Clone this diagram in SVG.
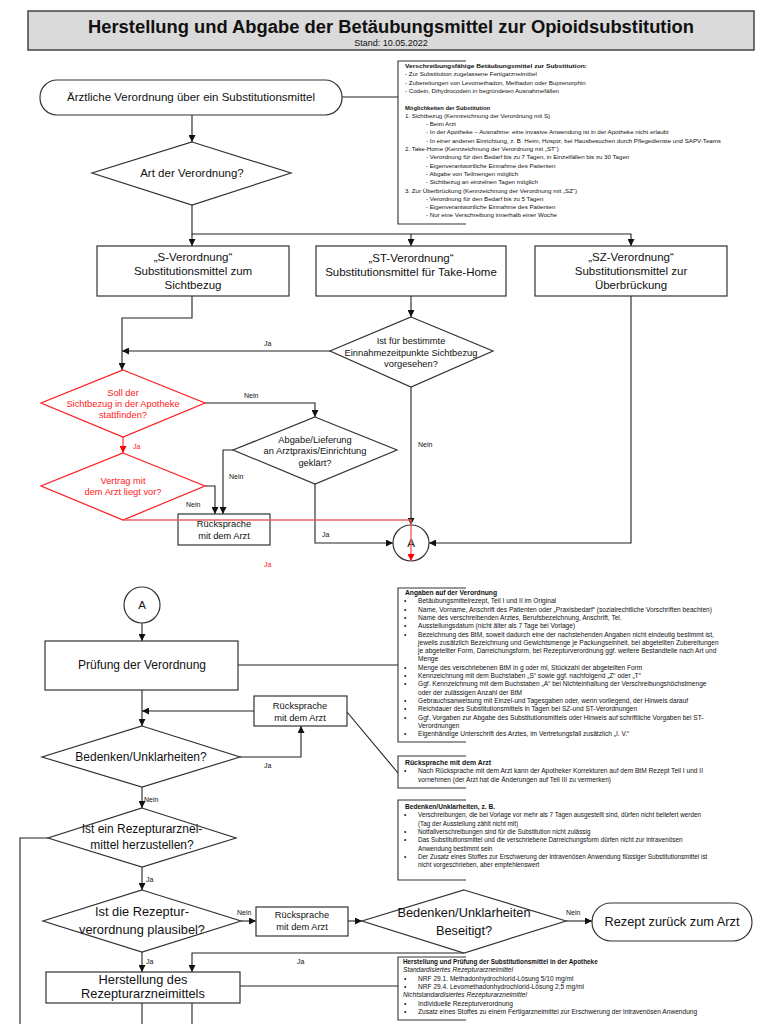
<svg xmlns="http://www.w3.org/2000/svg" width="768" height="1024" viewBox="0 0 768 1024">
<defs>
<marker id="ab" viewBox="0 0 8 8" refX="8" refY="4" markerWidth="7" markerHeight="7" markerUnits="userSpaceOnUse" orient="auto"><path d="M0,0 L8,4 L0,8 Z" fill="#111"/></marker>
<marker id="ar" viewBox="0 0 8 8" refX="8" refY="4" markerWidth="7" markerHeight="7" markerUnits="userSpaceOnUse" orient="auto"><path d="M0,0 L8,4 L0,8 Z" fill="#ff0000"/></marker>
</defs>
<style>
text{font-family:"Liberation Sans",Arial,Helvetica,sans-serif;fill:#111}
.box{fill:#fff;stroke:#333;stroke-width:1.2}
.rbox{fill:#fff;stroke:#ff1a1a;stroke-width:1.2}
.ln{fill:none;stroke:#222;stroke-width:1.1}
.rln{fill:none;stroke:#ff2020;stroke-width:1.1}
.rln2{fill:none;stroke:#f06060;stroke-width:1.4}
.br{fill:none;stroke:#333;stroke-width:1.1}
.m{text-anchor:middle}
.n11{font-size:11.5px}
.n12{font-size:12px}
.n13{font-size:12.8px}
.n9{font-size:9.3px}
.lb{font-size:7px}
.red{fill:#ff1a1a}
.nt{font-size:6.15px}
.nt2{font-size:6.6px}
.nt4{font-size:6.35px}
.b{font-weight:bold}
.i{font-style:italic}
</style>

<g id="title">
<rect x="28" y="11" width="726" height="39" fill="#dadada" stroke="#444" stroke-width="1.5"/>
<text x="391" y="33" class="m b" font-size="18" textLength="606" lengthAdjust="spacingAndGlyphs">Herstellung und Abgabe der Betäubungsmittel zur Opioidsubstitution</text>
<text x="391" y="46" class="m" font-size="9">Stand: 10.05.2022</text>
</g>

<g id="connectors">
<path class="ln" d="M192,115 V142" marker-end="url(#ab)"/>
<path class="ln" d="M342,97 H398"/>
<path class="ln" d="M192,205 V246" marker-end="url(#ab)"/>
<path class="ln" d="M192,234 H631 V246" marker-end="url(#ab)"/>
<path class="ln" d="M411,234 V246" marker-end="url(#ab)"/>
<path class="ln" d="M192,296 V318 H122 V370" marker-end="url(#ab)"/>
<path class="ln" d="M411,296 V317" marker-end="url(#ab)"/>
<path class="ln" d="M330,351 H122" marker-end="url(#ab)"/>
<path class="ln" d="M411,387 V525" marker-end="url(#ab)"/>
<path class="ln" d="M631,296 V543 H429" marker-end="url(#ab)"/>
<path class="ln" d="M205,403 H315 V417" marker-end="url(#ab)"/>
<path class="ln" d="M233,450 H223 V514" marker-end="url(#ab)"/>
<path class="ln" d="M205,486 H215 V514" marker-end="url(#ab)"/>
<path class="ln" d="M315,484 V543 H393" marker-end="url(#ab)"/>
<path class="rln" d="M123,437 V453" marker-end="url(#ar)"/>
<path class="ln" d="M142,623 V641" marker-end="url(#ab)"/>
<path class="ln" d="M238,665 H398"/>
<path class="ln" d="M142,690 V726" marker-end="url(#ab)"/>
<path class="ln" d="M254,711 H142" marker-end="url(#ab)"/>
<path class="ln" d="M240,757 H301 V726" marker-end="url(#ab)"/>
<path class="ln" d="M347,712 L398,773"/>
<path class="ln" d="M142,787 V808" marker-end="url(#ab)"/>
<path class="ln" d="M48,838 H20 V1024"/>
<path class="ln" d="M142,867 V890" marker-end="url(#ab)"/>
<path class="ln" d="M241,921 H256" marker-end="url(#ab)"/>
<path class="ln" d="M348,921 H362" marker-end="url(#ab)"/>
<path class="ln" d="M566,921 H592" marker-end="url(#ab)"/>
<path class="ln" d="M464,953 H192 V972" marker-end="url(#ab)"/>
<path class="ln" d="M142,952 V972" marker-end="url(#ab)"/>
<path class="ln" d="M240,986 H398"/>
<path class="ln" d="M142,1003 V1024"/>
<path class="ln" d="M192,1003 V1024"/>
</g>

<g id="labels">
<text x="264" y="346" class="lb">Ja</text>
<text x="418" y="447" class="lb">Nein</text>
<text x="244" y="398" class="lb">Nein</text>
<text x="229" y="479" class="lb">Nein</text>
<text x="186" y="507" class="lb">Nein</text>
<text x="322" y="537" class="lb">Ja</text>
<text x="133" y="449" class="lb red">Ja</text>
<text x="264" y="567" class="lb red">Ja</text>
<text x="264" y="768" class="lb">Ja</text>
<text x="144" y="802" class="lb">Nein</text>
<text x="146" y="882" class="lb">Ja</text>
<text x="237" y="915" class="lb">Nein</text>
<text x="566" y="915" class="lb">Nein</text>
<text x="297" y="964" class="lb">Ja</text>
<text x="146" y="964" class="lb">Ja</text>
</g>

<g id="n-start">
<rect x="40" y="80" width="302" height="35" rx="17" class="box"/>
<text x="191" y="101" class="m n11">Ärztliche Verordnung über ein Substitutionsmittel</text>
</g>
<g id="n-art">
<polygon points="192,142 291,173 192,205 92,173" class="box"/>
<text x="192" y="177" class="m n11">Art der Verordnung?</text>
</g>
<g id="n-s">
<rect x="97" y="246" width="192" height="50" class="box"/>
<text x="193" y="261" class="m n11">„S-Verordnung“</text>
<text x="193" y="275" class="m n11">Substitutionsmittel zum</text>
<text x="193" y="289" class="m n11">Sichtbezug</text>
</g>
<g id="n-st">
<rect x="316" y="246" width="190" height="50" class="box"/>
<text x="411" y="262" class="m n11">„ST-Verordnung“</text>
<text x="411" y="276" class="m n11">Substitutionsmittel für Take-Home</text>
</g>
<g id="n-sz">
<rect x="535" y="246" width="192" height="50" class="box"/>
<text x="631" y="261" class="m n11">„SZ-Verordnung“</text>
<text x="631" y="275" class="m n11">Substitutionsmittel zur</text>
<text x="631" y="289" class="m n11">Überbrückung</text>
</g>
<g id="n-istfuer">
<polygon points="411,317 493,351 411,387 330,351" class="box"/>
<text x="411" y="344" class="m n9">Ist für bestimmte</text>
<text x="411" y="356" class="m n9">Einnahmezeitpunkte Sichtbezug</text>
<text x="411" y="367" class="m n9">vorgesehen?</text>
</g>
<g id="n-soll">
<polygon points="123,370 205,403 123,437 41,403" class="rbox"/>
<text x="123" y="396" class="m n9 red">Soll der</text>
<text x="123" y="407" class="m n9 red">Sichtbezug in der Apotheke</text>
<text x="123" y="418" class="m n9 red">stattfinden?</text>
</g>
<g id="n-abgabe">
<polygon points="315,417 397,450 315,484 233,450" class="box"/>
<text x="315" y="443" class="m n9">Abgabe/Lieferung</text>
<text x="315" y="454" class="m n9">an Arztpraxis/Einrichtung</text>
<text x="315" y="466" class="m n9">geklärt?</text>
</g>
<g id="n-vertrag">
<polygon points="123,453 205,486 123,520 41,486" class="rbox"/>
<text x="123" y="484" class="m n9 red">Vertrag mit</text>
<text x="123" y="495" class="m n9 red">dem Arzt liegt vor?</text>
</g>
<g id="n-rueck1">
<rect x="178" y="514" width="92" height="31" class="box"/>
<text x="224" y="527" class="m n9">Rücksprache</text>
<text x="224" y="539" class="m n9">mit dem Arzt</text>
</g>
<g id="n-a1">
<circle cx="411" cy="543" r="18" class="box"/>
<text x="411" y="547" class="m n11">A</text>
</g>
<g id="red-path">
<path class="rln2" d="M123,520 H411 V561" marker-end="url(#ar)"/>
</g>

<g id="note1">
<path class="br" d="M466,61 H398 V224 H466"/>
<text class="nt b" x="405" y="68" textLength="182" lengthAdjust="spacingAndGlyphs">Verschreibungsfähige Betäubungsmittel zur Substitution:</text>
<g class="nt">
<text x="405" y="76.3">- Zur Substitution zugelassene Fertigarzneimittel</text>
<text x="405" y="84.6">- Zubereitungen von Levomethadon, Methadon oder Buprenorphin</text>
<text x="405" y="92.9">- Codein, Dihydrocodein in begründeten Ausnahmefällen</text>
<text class="b" x="405" y="109.5" textLength="85" lengthAdjust="spacingAndGlyphs">Möglichkeiten der Substitution</text>
<text x="405" y="117.8">1. Sichtbezug (Kennzeichnung der Verordnung mit S)</text>
<text x="426" y="126.1">- Beim Arzt</text>
<text x="426" y="134.4">- In der Apotheke – Ausnahme: eine invasive Anwendung ist in der Apotheke nicht erlaubt</text>
<text x="426" y="142.7">- In einer anderen Einrichtung, z. B. Heim, Hospiz, bei Hausbesuchen durch Pflegedienste und SAPV-Teams</text>
<text x="405" y="151">2. Take-Home (Kennzeichnung der Verordnung mit „ST“)</text>
<text x="426" y="159.3">- Verordnung für den Bedarf bis zu 7 Tagen, in Einzelfällen bis zu 30 Tagen</text>
<text x="426" y="167.6">- Eigenverantwortliche Einnahme des Patienten</text>
<text x="426" y="175.9">- Abgabe von Teilmengen möglich</text>
<text x="426" y="184.2">- Sichtbezug an einzelnen Tagen möglich</text>
<text x="405" y="192.5">3. Zur Überbrückung (Kennzeichnung der Verordnung mit „SZ“)</text>
<text x="426" y="200.8">- Verordnung für den Bedarf bis zu 5 Tagen</text>
<text x="426" y="209.1">- Eigenverantwortliche Einnahme des Patienten</text>
<text x="426" y="217.4">- Nur eine Verschreibung innerhalb einer Woche</text>
</g>
</g>

<g id="n-a2">
<circle cx="142" cy="605" r="18" class="box"/>
<text x="142" y="609" class="m n11">A</text>
</g>
<g id="n-pruefung">
<rect x="45" y="641" width="193" height="49" class="box"/>
<text x="142" y="669" class="m n12">Prüfung der Verordnung</text>
</g>
<g id="n-rueck2">
<rect x="254" y="696" width="93" height="30" class="box"/>
<text x="300" y="709" class="m n9">Rücksprache</text>
<text x="300" y="721" class="m n9">mit dem Arzt</text>
</g>
<g id="n-bedenken1">
<polygon points="142,726 240,757 142,787 42,757" class="box"/>
<text x="141" y="761" class="m n12">Bedenken/Unklarheiten?</text>
</g>
<g id="n-rezeptur">
<polygon points="142,808 236,838 142,867 48,838" class="box"/>
<text x="142" y="833" class="m n12">Ist ein Rezepturarznei-</text>
<text x="142" y="849" class="m n12">mittel herzustellen?</text>
</g>
<g id="n-plausibel">
<polygon points="142,890 241,921 142,952 43,921" class="box"/>
<text x="142" y="916" class="m n13">Ist die Rezeptur-</text>
<text x="142" y="934" class="m n13">verordnung plausibel?</text>
</g>
<g id="n-rueck3">
<rect x="256" y="907" width="92" height="29" class="box"/>
<text x="302" y="918" class="m n9">Rücksprache</text>
<text x="302" y="930" class="m n9">mit dem Arzt</text>
</g>
<g id="n-bedenken2">
<polygon points="464,890 566,921 464,953 362,921" class="box"/>
<text x="464" y="917" class="m n13">Bedenken/Unklarheiten</text>
<text x="464" y="935" class="m n13">Beseitigt?</text>
</g>
<g id="n-zurueck">
<rect x="592" y="903" width="160" height="38" rx="19" class="box"/>
<text x="672" y="926" class="m n13">Rezept zurück zum Arzt</text>
</g>
<g id="n-herstellung">
<rect x="46" y="972" width="194" height="31" class="box"/>
<text x="143" y="984" class="m n13">Herstellung des</text>
<text x="143" y="998" class="m n13">Rezepturarzneimittels</text>
</g>

<g id="note2">
<path class="br" d="M466,588 H398 V742 H466"/>
<text class="nt2 b" x="405" y="595" textLength="92" lengthAdjust="spacingAndGlyphs">Angaben auf der Verordnung</text>
<g class="nt2">
<text x="404" y="603.3">•</text><text x="418" y="603.3">Betäubungsmittelrezept, Teil I und II im Original</text>
<text x="404" y="611.6">•</text><text x="418" y="611.6">Name, Vorname, Anschrift des Patienten oder „Praxisbedarf“ (sozialrechtliche Vorschriften beachten)</text>
<text x="404" y="619.9">•</text><text x="418" y="619.9">Name des verschreibenden Arztes, Berufsbezeichnung, Anschrift, Tel.</text>
<text x="404" y="628.2">•</text><text x="418" y="628.2">Ausstellungsdatum (nicht älter als 7 Tage bei Vorlage)</text>
<text x="404" y="636.5">•</text><text x="418" y="636.5">Bezeichnung des BtM, soweit dadurch eine der nachstehenden Angaben nicht eindeutig bestimmt ist,</text>
<text x="418" y="644.8">jeweils zusätzlich Bezeichnung und Gewichtsmenge je Packungseinheit, bei abgeteilten Zubereitungen</text>
<text x="418" y="653.1">je abgeteilter Form, Darreichungsform, bei Rezepturverordnung ggf. weitere Bestandteile nach Art und</text>
<text x="418" y="661.4">Menge</text>
<text x="404" y="669.7">•</text><text x="418" y="669.7">Menge des verschriebenen BtM in g oder ml, Stückzahl der abgeteilten Form</text>
<text x="404" y="678">•</text><text x="418" y="678">Kennzeichnung mit dem Buchstaben „S“ sowie ggf. nachfolgend „Z“ oder „T“</text>
<text x="404" y="686.3">•</text><text x="418" y="686.3">Ggf. Kennzeichnung mit dem Buchstaben „A“ bei Nichteinhaltung der Verschreibungshöchstmenge</text>
<text x="418" y="694.6">oder der zulässigen Anzahl der BtM</text>
<text x="404" y="702.9">•</text><text x="418" y="702.9">Gebrauchsanweisung mit Einzel-und Tagesgaben oder, wenn vorliegend, der Hinweis darauf</text>
<text x="404" y="711.2">•</text><text x="418" y="711.2">Reichdauer des Substitutionsmittels in Tagen bei SZ-und ST-Verordnungen</text>
<text x="404" y="719.5">•</text><text x="418" y="719.5">Ggf. Vorgaben zur Abgabe des Substitutionsmittels oder Hinweis auf schriftliche Vorgaben bei ST-</text>
<text x="418" y="727.8">Verordnungen</text>
<text x="404" y="736.1">•</text><text x="418" y="736.1">Eigenhändige Unterschrift des Arztes, im Vertretungsfall zusätzlich „I. V.“</text>
</g>
</g>

<g id="note3">
<path class="br" d="M466,756 H398 V788 H466"/>
<text class="nt2 b" x="405" y="765" textLength="86" lengthAdjust="spacingAndGlyphs">Rücksprache mit dem Arzt</text>
<g class="nt2">
<text x="404" y="773.3">•</text><text x="418" y="773.3">Nach Rücksprache mit dem Arzt kann der Apotheker Korrekturen auf dem BtM Rezept Teil I und II</text>
<text x="418" y="781.6">vornehmen (der Arzt hat die Änderungen auf Teil III zu vermerken)</text>
</g>
</g>

<g id="note4">
<path class="br" d="M466,800 H398 V880 H466"/>
<text class="nt4 b" x="405" y="809" textLength="90" lengthAdjust="spacingAndGlyphs">Bedenken/Unklarheiten, z. B.</text>
<g class="nt4">
<text x="404" y="817.3">•</text><text x="418" y="817.3">Verschreibungen, die bei Vorlage vor mehr als 7 Tagen ausgestellt sind, dürfen nicht beliefert werden</text>
<text x="418" y="825.6">(Tag der Ausstellung zählt nicht mit)</text>
<text x="404" y="833.9">•</text><text x="418" y="833.9">Notfallverschreibungen sind für die Substitution nicht zulässig</text>
<text x="404" y="842.2">•</text><text x="418" y="842.2">Das Substitutionsmittel und die verschriebene Darreichungsform dürfen nicht zur intravenösen</text>
<text x="418" y="850.5">Anwendung bestimmt sein</text>
<text x="404" y="858.8">•</text><text x="418" y="858.8">Der Zusatz eines Stoffes zur Erschwerung der intravenösen Anwendung flüssiger Substitutionsmittel ist</text>
<text x="418" y="867.1">nicht vorgeschrieben, aber empfehlenswert</text>
</g>
</g>

<g id="note5">
<path class="br" d="M466,957 H398 V1020 H466"/>
<text class="nt4 b" x="403" y="964">Herstellung und Prüfung der Substitutionsmittel in der Apotheke</text>
<g class="nt2">
<text class="i" x="403" y="972.3">Standardisiertes Rezepturarzneimittel</text>
<text x="404" y="980.6">•</text><text x="418" y="980.6">NRF 29.1. Methadonhydrochlorid-Lösung 5/10 mg/ml</text>
<text x="404" y="988.9">•</text><text x="418" y="988.9">NRF 29.4. Levomethadonhydrochlorid-Lösung 2,5 mg/ml</text>
<text class="i" x="403" y="997.2">Nichtstandardisiertes Rezepturarzneimittel</text>
<text x="404" y="1005.5">•</text><text x="418" y="1005.5">Individuelle Rezepturverordnung</text>
<text x="404" y="1013.8">•</text><text x="418" y="1013.8">Zusatz eines Stoffes zu einem Fertigarzneimittel zur Erschwerung der intravenösen Anwendung</text>
</g>
</g>
</svg>
